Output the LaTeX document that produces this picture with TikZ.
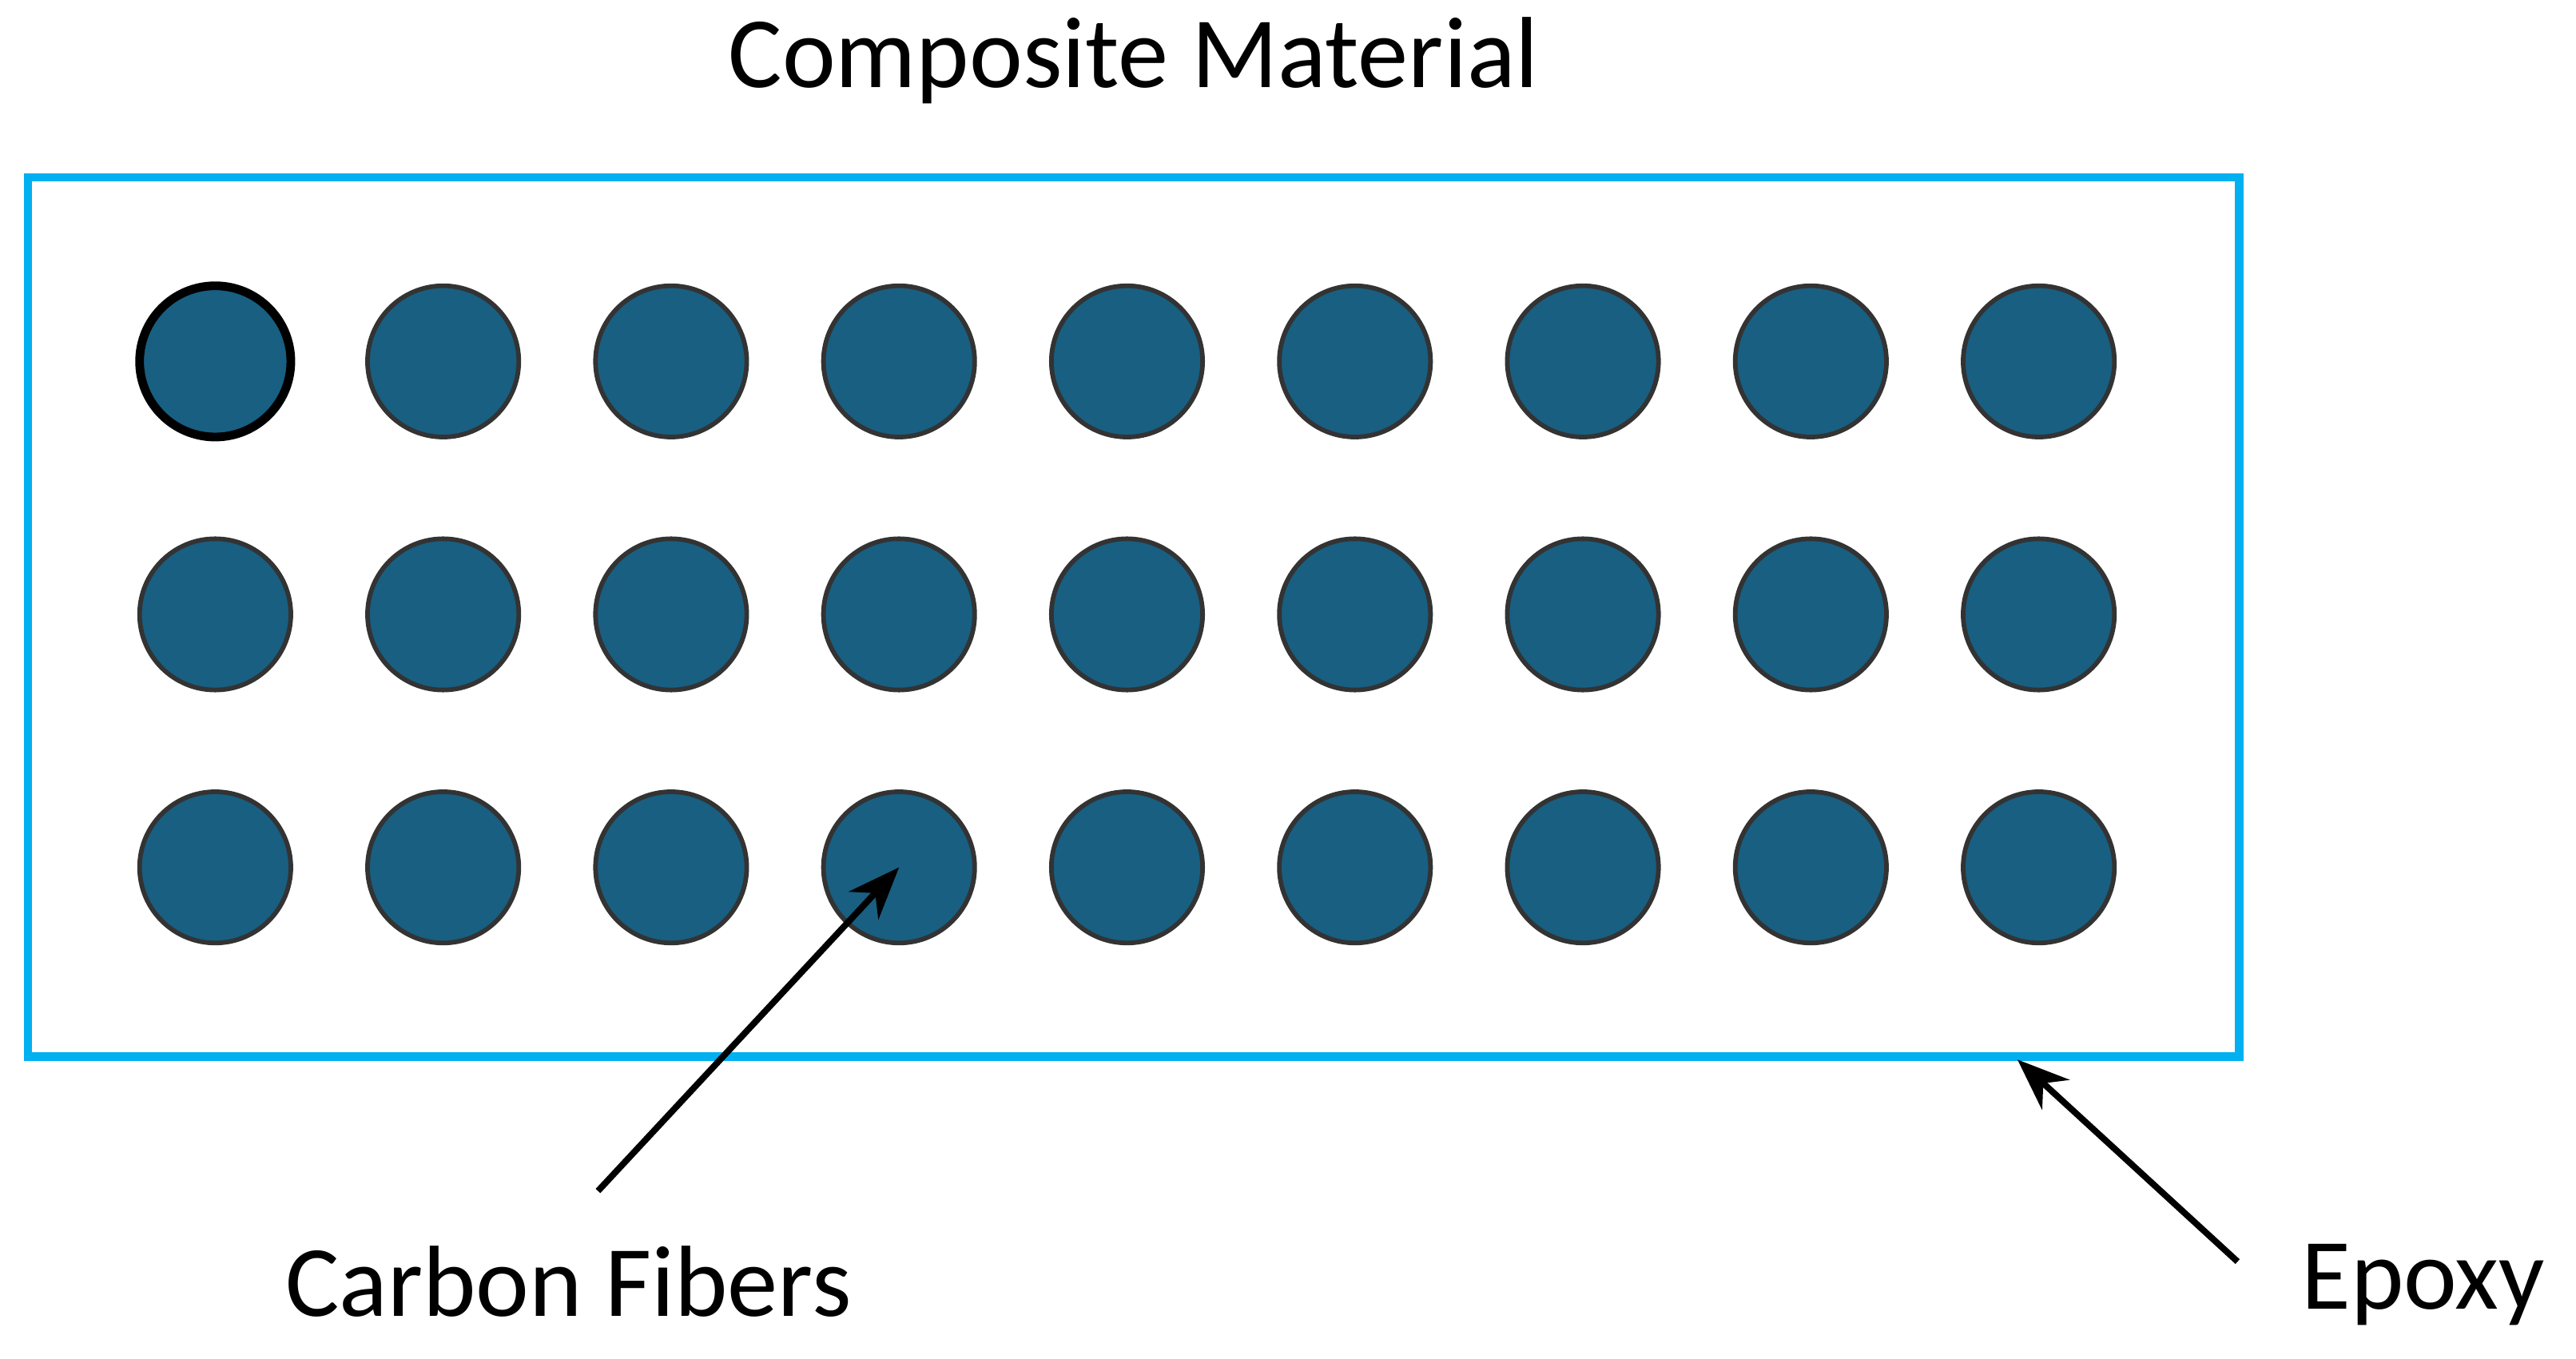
\documentclass[tikz,border=0pt]{standalone}
\usepackage{fontspec}
\setmainfont{Carlito}
\usetikzlibrary{arrows.meta}
\definecolor{epoxyblue}{HTML}{00B0F0}
\definecolor{fiberblue}{HTML}{185F82}
\tikzset{
  fiber/.style={circle, draw=black!80, line width=0.8pt, fill=fiberblue, minimum size=0.92cm, inner sep=0pt},
  label/.style={font=\fontsize{17.5}{20}\selectfont},
  pointer/.style={-{Stealth[length=9pt,width=7pt]}, line width=1.1pt}
}
\begin{document}
\begin{tikzpicture}[x=0.01cm, y=-0.01cm]
        \useasboundingbox (0,0) rectangle (1568,827);
        \node[label] (title) at (690,37){Composite Material};
        \draw[epoxyblue, line width=1.5pt] (17,108) rectangle (1363,643);
        \foreach \r/\y in {1/220, 2/374, 3/528}{
            \foreach \c in {1,...,9}{
                \node[fiber] (c\r\c) at ({131+138.75*(\c-1)},\y){};
            }
        }
        \draw[line width=1.5pt] (c11) circle (0.46cm);
        \node[label] (carbon) at (346,780){Carbon Fibers};
        \node[label] (epoxy) at (1475,782){Epoxy};
        \coordinate (edge) at (1228,645);
        \draw[pointer] (364,725) -- (c34.center);
        \draw[pointer] (1362,768) -- (edge);
    \end{tikzpicture}
\end{document}
